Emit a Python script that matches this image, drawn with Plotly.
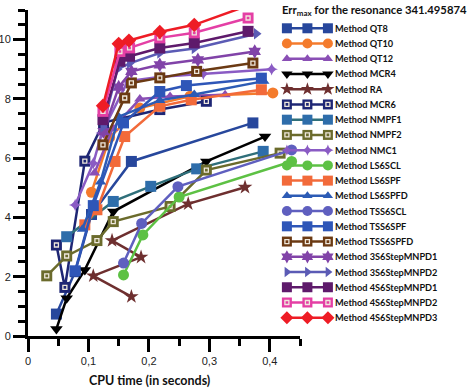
import plotly.graph_objects as go

# ---------------- data ----------------
method_names = ["Method QT8", "Method QT10", "Method QT12", "Method MCR4", "Method RA",
                "Method MCR6", "Method NMPF1", "Method NMPF2", "Method NMC1", "Method LS6SCL",
                "Method LS6SPF", "Method LS6SPFD", "Method TSS6SCL", "Method TSS6SPF",
                "Method TSS6SPFD", "Method 3S6StepMNPD1", "Method 3S6StepMNPD2",
                "Method 4S6StepMNPD1", "Method 4S6StepMNPD2", "Method 4S6StepMNPD3"]

qt8_x = [0.047, 0.078, 0.105, 0.171, 0.372]
qt8_y = [0.74, 2.17, 4.1, 5.89, 7.19]
qt10_x = [0.105, 0.135, 0.185, 0.268, 0.405]
qt10_y = [4.85, 6.7, 7.69, 8.09, 8.2]
qt12_x = [0.11, 0.14, 0.185, 0.235, 0.326]
qt12_y = [5.5, 7.0, 8.0, 8.08, 8.14]
mcr4_x = [0.047, 0.064, 0.094, 0.141, 0.295, 0.392]
mcr4_y = [0.24, 1.27, 2.23, 4.2, 5.89, 6.73]
ra_x = [0.171, 0.108, 0.187, 0.139, 0.265, 0.359]
ra_y = [1.33, 2.03, 2.66, 3.22, 4.46, 5.02]
mcr6_x = [0.047, 0.061, 0.094, 0.125, 0.218, 0.295]
mcr6_y = [3.07, 1.64, 5.9, 7.2, 7.64, 7.92]
nmpf1_x = [0.064, 0.141, 0.203, 0.279, 0.389]
nmpf1_y = [3.35, 4.54, 5.05, 5.64, 6.23]
nmpf2_x = [0.031, 0.064, 0.114, 0.141, 0.235, 0.295, 0.417]
nmpf2_y = [2.03, 2.7, 3.22, 3.86, 4.37, 5.6, 6.17]
nmc1_x = [0.078, 0.108, 0.122, 0.165, 0.22, 0.29, 0.403]
nmc1_y = [4.42, 5.83, 6.85, 8.6, 8.75, 8.85, 9.0]
ls6scl_x = [0.158, 0.19, 0.25, 0.436]
ls6scl_y = [2.06, 3.41, 4.69, 5.89]
ls6spf_x = [0.094, 0.114, 0.144, 0.16, 0.218, 0.27, 0.386]
ls6spf_y = [3.75, 4.26, 5.89, 6.73, 7.75, 7.97, 8.31]
ls6spfd_x = [0.09, 0.12, 0.15, 0.218, 0.275, 0.39]
ls6spfd_y = [3.6, 5.2, 7.4, 7.95, 8.15, 8.6]
tss6scl_x = [0.158, 0.188, 0.248, 0.436]
tss6scl_y = [2.46, 3.8, 5.04, 6.28]
tss6spf_x = [0.078, 0.108, 0.158, 0.218, 0.262, 0.386]
tss6spf_y = [2.2, 4.4, 7.19, 8.25, 8.45, 8.7]
tss6spfd_x = [0.124, 0.16, 0.171, 0.218, 0.279, 0.372]
tss6spfd_y = [6.45, 8.03, 8.54, 8.71, 8.93, 9.21]
s3mnpd1_x = [0.125, 0.15, 0.171, 0.218, 0.281, 0.375]
s3mnpd1_y = [6.9, 8.4, 8.93, 9.15, 9.32, 9.6]
s3mnpd2_x = [0.124, 0.148, 0.168, 0.218, 0.275, 0.378]
s3mnpd2_y = [7.05, 9.0, 9.2, 9.55, 9.7, 10.2]
s4mnpd1_x = [0.124, 0.152, 0.168, 0.218, 0.275, 0.364]
s4mnpd1_y = [7.3, 9.27, 9.44, 9.72, 9.89, 10.28]
s4mnpd2_x = [0.124, 0.152, 0.168, 0.218, 0.275, 0.364]
s4mnpd2_y = [7.58, 9.6, 9.72, 10.06, 10.23, 10.73]
s4mnpd3_x = [0.124, 0.150, 0.167, 0.218, 0.275, 0.364]
s4mnpd3_y = [7.77, 9.86, 9.97, 10.26, 10.5, 11.15]

x_ticks = [0, 0.1, 0.2, 0.3, 0.4]
y_ticks = [0, 2, 4, 6, 8, 10]

series_x = [qt8_x, qt10_x, qt12_x, mcr4_x, ra_x, mcr6_x, nmpf1_x, nmpf2_x, nmc1_x, ls6scl_x,
            ls6spf_x, ls6spfd_x, tss6scl_x, tss6spf_x, tss6spfd_x, s3mnpd1_x, s3mnpd2_x,
            s4mnpd1_x, s4mnpd2_x, s4mnpd3_x]
series_y = [qt8_y, qt10_y, qt12_y, mcr4_y, ra_y, mcr6_y, nmpf1_y, nmpf2_y, nmc1_y, ls6scl_y,
            ls6spf_y, ls6spfd_y, tss6scl_y, tss6spf_y, tss6spfd_y, s3mnpd1_y, s3mnpd2_y,
            s4mnpd1_y, s4mnpd2_y, s4mnpd3_y]

# ---------------- styles ----------------
marker_colors = ["#27479c", "#f47b2c", "#8a4fb5", "#000000", "#6e2f2f",
                 "#1e2674", "#2e6daa", "#6b6b2c", "#8a5bc4", "#5dc144",
                 "#f26a3a", "#2c5bb5", "#5f5fbf", "#2e56b8", "#6b3a13",
                 "#8143a8", "#5b5bb5", "#5e1a6b", "#e43fa5", "#ee1c25"]
line_colors = list(marker_colors)
line_colors[6] = "#2f6f7a"
symbols = ["square", "circle", "triangle-up", "triangle-down", "star",
           "square", "square", "square", "star-diamond", "circle",
           "square", "triangle-up", "circle", "square", "square",
           "hexagram", "triangle-right", "square", "square", "diamond"]
inner_dot = [False, False, False, False, False, True, False, True, False, False,
             False, False, False, False, True, False, False, False, True, False]
sizes = [11, 11, 10, 11, 11, 11, 11, 11, 9, 11, 11, 10, 11, 11, 11, 11, 10, 11, 11, 11]

fig = go.Figure()

for i in range(len(method_names)):
    fig.add_trace(go.Scatter(
        x=series_x[i], y=series_y[i], mode="lines+markers", cliponaxis=False,
        line=dict(color=line_colors[i], width=2.5),
        marker=dict(symbol=symbols[i], size=sizes[i], color=marker_colors[i], line=dict(width=0)),
        showlegend=False, hoverinfo="skip", xaxis="x", yaxis="y"))
    if inner_dot[i]:
        fig.add_trace(go.Scatter(
            x=series_x[i], y=series_y[i], mode="markers", cliponaxis=False,
            marker=dict(symbol="square-open", size=4, color="#efe8dc", line=dict(width=1.3)),
            showlegend=False, hoverinfo="skip", xaxis="x", yaxis="y"))

# ---------------- custom legend ----------------
leg_sym_x = [2, 22.5, 43]
leg_text_x = 48
for i, name in enumerate(method_names):
    fig.add_trace(go.Scatter(
        x=leg_sym_x, y=[i] * 3, mode="lines+markers", cliponaxis=False,
        line=dict(color=line_colors[i], width=2.5),
        marker=dict(symbol=symbols[i], size=sizes[i] - 1, color=marker_colors[i], line=dict(width=0)),
        showlegend=False, hoverinfo="skip", xaxis="x2", yaxis="y2"))
    if inner_dot[i]:
        fig.add_trace(go.Scatter(
            x=leg_sym_x, y=[i] * 3, mode="markers", cliponaxis=False,
            marker=dict(symbol="square-open", size=4, color="#efe8dc", line=dict(width=1.3)),
            showlegend=False, hoverinfo="skip", xaxis="x2", yaxis="y2"))
    fig.add_annotation(x=leg_text_x, y=i, xref="x2", yref="y2", text=name, showarrow=False,
                       xanchor="left", yanchor="middle",
                       font=dict(family="Lato", size=9.2, color="#111111", weight="bold"))

fig.add_annotation(x=0.566, y=1.0, xref="paper", yref="paper",
                   text="Err<sub>max</sub> for the resonance 341.495874", showarrow=False,
                   xanchor="left", yanchor="middle",
                   font=dict(family="Lato", size=11.3, color="#111111", weight="bold"))
fig.add_annotation(x=0.2735, y=-0.135, xref="paper", yref="paper",
                   text="CPU time (in seconds)", showarrow=False,
                   xanchor="center", yanchor="middle",
                   font=dict(family="Lato", size=12.5, color="#111111", weight="bold"))

axis_common = dict(showline=True, linewidth=3, linecolor="black", ticks="outside",
                   tickwidth=3, tickcolor="black", showgrid=False, zeroline=False,
                   tickfont=dict(family="Liberation Sans", size=11, color="#222222"))

fig.update_layout(
    width=474, height=389,
    margin=dict(l=28, r=0, t=10, b=53, autoexpand=False),
    paper_bgcolor="white", plot_bgcolor="rgba(0,0,0,0)",
    separators=",.",
    xaxis=dict(domain=[0, 0.61], range=[0, 0.45], tickvals=x_ticks, ticklen=13,
               minor=dict(dtick=0.05, ticklen=7, tickwidth=2.5, tickcolor="black", ticks="outside"),
               **axis_common),
    yaxis=dict(domain=[0, 1], range=[0, 11], tickvals=y_ticks, ticklen=12,
               minor=dict(dtick=0.5, ticklen=7, tickwidth=2.5, tickcolor="black", ticks="outside"),
               **axis_common),
    xaxis2=dict(domain=[0.576, 1], range=[0, 189], visible=False, anchor="y2"),
    yaxis2=dict(domain=[0, 1], range=[20.2, -1.2], visible=False, anchor="x2"),
)

fig.write_html("out.html", config={"displayModeBar": False},
               post_script="document.body.style.margin='0';")
